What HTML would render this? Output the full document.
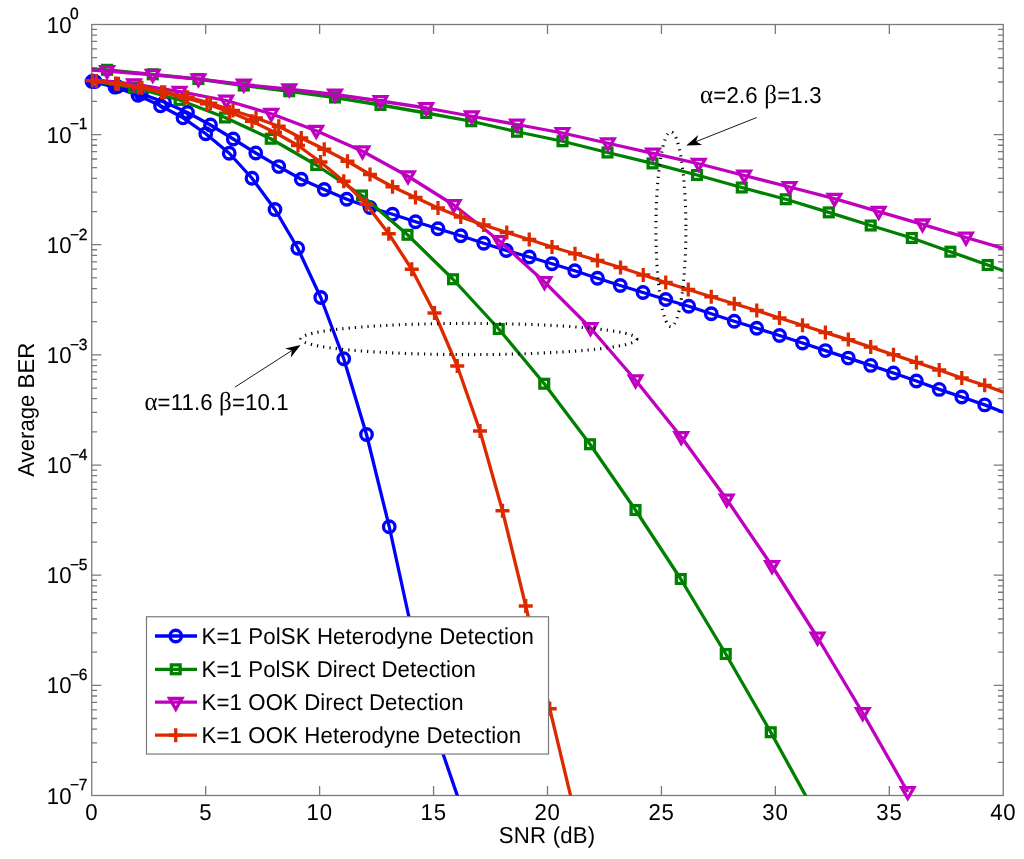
<!DOCTYPE html>
<html><head><meta charset="utf-8"><title>Average BER vs SNR</title>
<style>html,body{margin:0;padding:0;background:#fff}svg{display:block}</style></head>
<body>
<svg width="1024" height="859" viewBox="0 0 1024 859">
<rect width="1024" height="859" fill="#fff"/>
<defs><clipPath id="c"><rect x="91.75" y="24.40" width="911.50" height="771.10"/></clipPath></defs>
<g stroke="#7a7a7a" stroke-width="1.3" fill="none">
<rect x="91.75" y="24.50" width="911.50" height="771.00"/>
<path d="M205.69 795.50v-9.6M205.69 24.50v9.6M319.62 795.50v-9.6M319.62 24.50v9.6M433.56 795.50v-9.6M433.56 24.50v9.6M547.50 795.50v-9.6M547.50 24.50v9.6M661.44 795.50v-9.6M661.44 24.50v9.6M775.38 795.50v-9.6M775.38 24.50v9.6M889.31 795.50v-9.6M889.31 24.50v9.6M91.75 101.40h5.3M1003.25 101.40h-5.3M91.75 82.00h5.3M1003.25 82.00h-5.3M91.75 68.24h5.3M1003.25 68.24h-5.3M91.75 57.56h5.3M1003.25 57.56h-5.3M91.75 48.84h5.3M1003.25 48.84h-5.3M91.75 41.46h5.3M1003.25 41.46h-5.3M91.75 35.08h5.3M1003.25 35.08h-5.3M91.75 29.44h5.3M1003.25 29.44h-5.3M91.75 134.56h9.6M1003.25 134.56h-9.6M91.75 211.55h5.3M1003.25 211.55h-5.3M91.75 192.16h5.3M1003.25 192.16h-5.3M91.75 178.39h5.3M1003.25 178.39h-5.3M91.75 167.72h5.3M1003.25 167.72h-5.3M91.75 159.00h5.3M1003.25 159.00h-5.3M91.75 151.62h5.3M1003.25 151.62h-5.3M91.75 145.23h5.3M1003.25 145.23h-5.3M91.75 139.60h5.3M1003.25 139.60h-5.3M91.75 244.71h9.6M1003.25 244.71h-9.6M91.75 321.71h5.3M1003.25 321.71h-5.3M91.75 302.31h5.3M1003.25 302.31h-5.3M91.75 288.55h5.3M1003.25 288.55h-5.3M91.75 277.87h5.3M1003.25 277.87h-5.3M91.75 269.15h5.3M1003.25 269.15h-5.3M91.75 261.78h5.3M1003.25 261.78h-5.3M91.75 255.39h5.3M1003.25 255.39h-5.3M91.75 249.75h5.3M1003.25 249.75h-5.3M91.75 354.87h9.6M1003.25 354.87h-9.6M91.75 431.87h5.3M1003.25 431.87h-5.3M91.75 412.47h5.3M1003.25 412.47h-5.3M91.75 398.71h5.3M1003.25 398.71h-5.3M91.75 388.03h5.3M1003.25 388.03h-5.3M91.75 379.31h5.3M1003.25 379.31h-5.3M91.75 371.93h5.3M1003.25 371.93h-5.3M91.75 365.55h5.3M1003.25 365.55h-5.3M91.75 359.91h5.3M1003.25 359.91h-5.3M91.75 465.03h9.6M1003.25 465.03h-9.6M91.75 542.03h5.3M1003.25 542.03h-5.3M91.75 522.63h5.3M1003.25 522.63h-5.3M91.75 508.86h5.3M1003.25 508.86h-5.3M91.75 498.19h5.3M1003.25 498.19h-5.3M91.75 489.47h5.3M1003.25 489.47h-5.3M91.75 482.09h5.3M1003.25 482.09h-5.3M91.75 475.70h5.3M1003.25 475.70h-5.3M91.75 470.07h5.3M1003.25 470.07h-5.3M91.75 575.19h9.6M1003.25 575.19h-9.6M91.75 652.18h5.3M1003.25 652.18h-5.3M91.75 632.78h5.3M1003.25 632.78h-5.3M91.75 619.02h5.3M1003.25 619.02h-5.3M91.75 608.35h5.3M1003.25 608.35h-5.3M91.75 599.62h5.3M1003.25 599.62h-5.3M91.75 592.25h5.3M1003.25 592.25h-5.3M91.75 585.86h5.3M1003.25 585.86h-5.3M91.75 580.23h5.3M1003.25 580.23h-5.3M91.75 685.34h9.6M1003.25 685.34h-9.6M91.75 762.34h5.3M1003.25 762.34h-5.3M91.75 742.94h5.3M1003.25 742.94h-5.3M91.75 729.18h5.3M1003.25 729.18h-5.3M91.75 718.50h5.3M1003.25 718.50h-5.3M91.75 709.78h5.3M1003.25 709.78h-5.3M91.75 702.41h5.3M1003.25 702.41h-5.3M91.75 696.02h5.3M1003.25 696.02h-5.3M91.75 690.38h5.3M1003.25 690.38h-5.3"/>
</g>
<g clip-path="url(#c)">
<polyline fill="none" stroke="#0000ff" stroke-width="3.30" stroke-linejoin="round" points="91.75,81.30 115.00,87.20 138.00,95.30 160.50,105.80 183.00,117.80 205.75,133.75 229.25,153.25 252.00,178.25 275.00,209.50 297.75,248.25 320.75,297.50 343.75,358.75 366.50,434.50 389.25,526.75 408.75,616.25 443.00,753.75 457.25,795.40 460.00,803.00"/>
<polyline fill="none" stroke="#0000ff" stroke-width="3.30" stroke-linejoin="round" points="91.75,81.20 95.00,81.60 117.50,86.60 141.25,93.70 164.50,102.30 187.50,112.50 210.50,125.00 233.25,139.00 255.75,153.00 278.75,166.60 301.25,179.25 324.25,189.50 346.75,199.25 370.00,207.50 392.50,214.25 415.50,221.75 438.00,228.75 460.75,235.75 483.75,243.25 506.25,250.50 529.25,257.00 552.00,263.75 574.75,270.75 597.50,278.25 620.25,285.50 643.00,292.50 665.75,299.50 688.75,306.25 711.25,313.75 734.25,321.25 756.75,328.25 779.50,335.50 802.50,343.00 825.40,350.60 848.30,358.10 870.70,365.40 893.50,373.00 916.40,381.00 939.20,389.40 961.80,397.00 984.70,404.90 1003.25,412.30"/>
</g>
<circle cx="92.00" cy="81.40" r="5.75" fill="none" stroke="#0000ff" stroke-width="3.30"/><circle cx="115.00" cy="87.20" r="5.75" fill="none" stroke="#0000ff" stroke-width="3.30"/><circle cx="138.00" cy="95.30" r="5.75" fill="none" stroke="#0000ff" stroke-width="3.30"/><circle cx="160.50" cy="105.80" r="5.75" fill="none" stroke="#0000ff" stroke-width="3.30"/><circle cx="183.00" cy="117.80" r="5.75" fill="none" stroke="#0000ff" stroke-width="3.30"/><circle cx="205.75" cy="133.75" r="5.75" fill="none" stroke="#0000ff" stroke-width="3.30"/><circle cx="229.25" cy="153.25" r="5.75" fill="none" stroke="#0000ff" stroke-width="3.30"/><circle cx="252.00" cy="178.25" r="5.75" fill="none" stroke="#0000ff" stroke-width="3.30"/><circle cx="275.00" cy="209.50" r="5.75" fill="none" stroke="#0000ff" stroke-width="3.30"/><circle cx="297.75" cy="248.25" r="5.75" fill="none" stroke="#0000ff" stroke-width="3.30"/><circle cx="320.75" cy="297.50" r="5.75" fill="none" stroke="#0000ff" stroke-width="3.30"/><circle cx="343.75" cy="358.75" r="5.75" fill="none" stroke="#0000ff" stroke-width="3.30"/><circle cx="366.50" cy="434.50" r="5.75" fill="none" stroke="#0000ff" stroke-width="3.30"/><circle cx="389.25" cy="526.75" r="5.75" fill="none" stroke="#0000ff" stroke-width="3.30"/>
<circle cx="95.00" cy="81.60" r="5.75" fill="none" stroke="#0000ff" stroke-width="3.30"/><circle cx="117.50" cy="86.60" r="5.75" fill="none" stroke="#0000ff" stroke-width="3.30"/><circle cx="141.25" cy="93.70" r="5.75" fill="none" stroke="#0000ff" stroke-width="3.30"/><circle cx="164.50" cy="102.30" r="5.75" fill="none" stroke="#0000ff" stroke-width="3.30"/><circle cx="187.50" cy="112.50" r="5.75" fill="none" stroke="#0000ff" stroke-width="3.30"/><circle cx="210.50" cy="125.00" r="5.75" fill="none" stroke="#0000ff" stroke-width="3.30"/><circle cx="233.25" cy="139.00" r="5.75" fill="none" stroke="#0000ff" stroke-width="3.30"/><circle cx="255.75" cy="153.00" r="5.75" fill="none" stroke="#0000ff" stroke-width="3.30"/><circle cx="278.75" cy="166.60" r="5.75" fill="none" stroke="#0000ff" stroke-width="3.30"/><circle cx="301.25" cy="179.25" r="5.75" fill="none" stroke="#0000ff" stroke-width="3.30"/><circle cx="324.25" cy="189.50" r="5.75" fill="none" stroke="#0000ff" stroke-width="3.30"/><circle cx="346.75" cy="199.25" r="5.75" fill="none" stroke="#0000ff" stroke-width="3.30"/><circle cx="370.00" cy="207.50" r="5.75" fill="none" stroke="#0000ff" stroke-width="3.30"/><circle cx="392.50" cy="214.25" r="5.75" fill="none" stroke="#0000ff" stroke-width="3.30"/><circle cx="415.50" cy="221.75" r="5.75" fill="none" stroke="#0000ff" stroke-width="3.30"/><circle cx="438.00" cy="228.75" r="5.75" fill="none" stroke="#0000ff" stroke-width="3.30"/><circle cx="460.75" cy="235.75" r="5.75" fill="none" stroke="#0000ff" stroke-width="3.30"/><circle cx="483.75" cy="243.25" r="5.75" fill="none" stroke="#0000ff" stroke-width="3.30"/><circle cx="506.25" cy="250.50" r="5.75" fill="none" stroke="#0000ff" stroke-width="3.30"/><circle cx="529.25" cy="257.00" r="5.75" fill="none" stroke="#0000ff" stroke-width="3.30"/><circle cx="552.00" cy="263.75" r="5.75" fill="none" stroke="#0000ff" stroke-width="3.30"/><circle cx="574.75" cy="270.75" r="5.75" fill="none" stroke="#0000ff" stroke-width="3.30"/><circle cx="597.50" cy="278.25" r="5.75" fill="none" stroke="#0000ff" stroke-width="3.30"/><circle cx="620.25" cy="285.50" r="5.75" fill="none" stroke="#0000ff" stroke-width="3.30"/><circle cx="643.00" cy="292.50" r="5.75" fill="none" stroke="#0000ff" stroke-width="3.30"/><circle cx="665.75" cy="299.50" r="5.75" fill="none" stroke="#0000ff" stroke-width="3.30"/><circle cx="688.75" cy="306.25" r="5.75" fill="none" stroke="#0000ff" stroke-width="3.30"/><circle cx="711.25" cy="313.75" r="5.75" fill="none" stroke="#0000ff" stroke-width="3.30"/><circle cx="734.25" cy="321.25" r="5.75" fill="none" stroke="#0000ff" stroke-width="3.30"/><circle cx="756.75" cy="328.25" r="5.75" fill="none" stroke="#0000ff" stroke-width="3.30"/><circle cx="779.50" cy="335.50" r="5.75" fill="none" stroke="#0000ff" stroke-width="3.30"/><circle cx="802.50" cy="343.00" r="5.75" fill="none" stroke="#0000ff" stroke-width="3.30"/><circle cx="825.40" cy="350.60" r="5.75" fill="none" stroke="#0000ff" stroke-width="3.30"/><circle cx="848.30" cy="358.10" r="5.75" fill="none" stroke="#0000ff" stroke-width="3.30"/><circle cx="870.70" cy="365.40" r="5.75" fill="none" stroke="#0000ff" stroke-width="3.30"/><circle cx="893.50" cy="373.00" r="5.75" fill="none" stroke="#0000ff" stroke-width="3.30"/><circle cx="916.40" cy="381.00" r="5.75" fill="none" stroke="#0000ff" stroke-width="3.30"/><circle cx="939.20" cy="389.40" r="5.75" fill="none" stroke="#0000ff" stroke-width="3.30"/><circle cx="961.80" cy="397.00" r="5.75" fill="none" stroke="#0000ff" stroke-width="3.30"/><circle cx="984.70" cy="404.90" r="5.75" fill="none" stroke="#0000ff" stroke-width="3.30"/>
<g clip-path="url(#c)">
<polyline fill="none" stroke="#008000" stroke-width="3.30" stroke-linejoin="round" points="91.75,80.80 134.00,87.50 179.60,100.00 225.00,117.50 270.75,138.75 316.25,165.00 362.00,195.50 407.50,234.75 453.00,279.25 498.75,329.00 544.25,383.75 590.00,444.25 635.50,510.00 680.75,579.00 725.75,654.00 770.75,732.25 805.50,795.40 810.00,803.50"/>
<polyline fill="none" stroke="#008000" stroke-width="3.30" stroke-linejoin="round" points="91.75,68.80 107.10,69.80 152.75,74.30 198.40,79.00 243.75,85.50 289.25,91.25 335.00,97.50 380.50,105.00 426.25,113.00 471.25,121.25 517.00,131.75 562.50,141.25 607.50,152.50 652.50,163.40 697.00,175.00 741.75,187.50 785.75,199.25 828.80,212.40 870.70,225.50 911.80,238.00 950.40,251.70 987.70,265.00 1003.25,270.70"/>
</g>
<rect x="129.60" y="83.10" width="8.80" height="8.80" fill="none" stroke="#008000" stroke-width="3.30"/><rect x="175.20" y="95.60" width="8.80" height="8.80" fill="none" stroke="#008000" stroke-width="3.30"/><rect x="220.60" y="113.10" width="8.80" height="8.80" fill="none" stroke="#008000" stroke-width="3.30"/><rect x="266.35" y="134.35" width="8.80" height="8.80" fill="none" stroke="#008000" stroke-width="3.30"/><rect x="311.85" y="160.60" width="8.80" height="8.80" fill="none" stroke="#008000" stroke-width="3.30"/><rect x="357.60" y="191.10" width="8.80" height="8.80" fill="none" stroke="#008000" stroke-width="3.30"/><rect x="403.10" y="230.35" width="8.80" height="8.80" fill="none" stroke="#008000" stroke-width="3.30"/><rect x="448.60" y="274.85" width="8.80" height="8.80" fill="none" stroke="#008000" stroke-width="3.30"/><rect x="494.35" y="324.60" width="8.80" height="8.80" fill="none" stroke="#008000" stroke-width="3.30"/><rect x="539.85" y="379.35" width="8.80" height="8.80" fill="none" stroke="#008000" stroke-width="3.30"/><rect x="585.60" y="439.85" width="8.80" height="8.80" fill="none" stroke="#008000" stroke-width="3.30"/><rect x="631.10" y="505.60" width="8.80" height="8.80" fill="none" stroke="#008000" stroke-width="3.30"/><rect x="676.35" y="574.60" width="8.80" height="8.80" fill="none" stroke="#008000" stroke-width="3.30"/><rect x="721.35" y="649.60" width="8.80" height="8.80" fill="none" stroke="#008000" stroke-width="3.30"/><rect x="766.35" y="727.85" width="8.80" height="8.80" fill="none" stroke="#008000" stroke-width="3.30"/>
<rect x="102.70" y="65.40" width="8.80" height="8.80" fill="none" stroke="#008000" stroke-width="3.30"/><rect x="148.35" y="69.90" width="8.80" height="8.80" fill="none" stroke="#008000" stroke-width="3.30"/><rect x="194.00" y="74.60" width="8.80" height="8.80" fill="none" stroke="#008000" stroke-width="3.30"/><rect x="239.35" y="81.10" width="8.80" height="8.80" fill="none" stroke="#008000" stroke-width="3.30"/><rect x="284.85" y="86.85" width="8.80" height="8.80" fill="none" stroke="#008000" stroke-width="3.30"/><rect x="330.60" y="93.10" width="8.80" height="8.80" fill="none" stroke="#008000" stroke-width="3.30"/><rect x="376.10" y="100.60" width="8.80" height="8.80" fill="none" stroke="#008000" stroke-width="3.30"/><rect x="421.85" y="108.60" width="8.80" height="8.80" fill="none" stroke="#008000" stroke-width="3.30"/><rect x="466.85" y="116.85" width="8.80" height="8.80" fill="none" stroke="#008000" stroke-width="3.30"/><rect x="512.60" y="127.35" width="8.80" height="8.80" fill="none" stroke="#008000" stroke-width="3.30"/><rect x="558.10" y="136.85" width="8.80" height="8.80" fill="none" stroke="#008000" stroke-width="3.30"/><rect x="603.10" y="148.10" width="8.80" height="8.80" fill="none" stroke="#008000" stroke-width="3.30"/><rect x="648.10" y="159.00" width="8.80" height="8.80" fill="none" stroke="#008000" stroke-width="3.30"/><rect x="692.60" y="170.60" width="8.80" height="8.80" fill="none" stroke="#008000" stroke-width="3.30"/><rect x="737.35" y="183.10" width="8.80" height="8.80" fill="none" stroke="#008000" stroke-width="3.30"/><rect x="781.35" y="194.85" width="8.80" height="8.80" fill="none" stroke="#008000" stroke-width="3.30"/><rect x="824.40" y="208.00" width="8.80" height="8.80" fill="none" stroke="#008000" stroke-width="3.30"/><rect x="866.30" y="221.10" width="8.80" height="8.80" fill="none" stroke="#008000" stroke-width="3.30"/><rect x="907.40" y="233.60" width="8.80" height="8.80" fill="none" stroke="#008000" stroke-width="3.30"/><rect x="946.00" y="247.30" width="8.80" height="8.80" fill="none" stroke="#008000" stroke-width="3.30"/><rect x="983.30" y="260.60" width="8.80" height="8.80" fill="none" stroke="#008000" stroke-width="3.30"/>
<g clip-path="url(#c)">
<polyline fill="none" stroke="#bf00bf" stroke-width="3.30" stroke-linejoin="round" points="91.75,79.50 134.00,84.10 179.60,91.60 226.25,100.50 271.25,113.75 316.25,130.75 362.50,151.25 408.00,176.25 453.75,205.00 499.50,241.00 544.50,282.00 590.50,328.00 635.60,380.25 681.25,437.00 726.75,499.50 772.00,566.00 817.50,637.50 862.75,713.00 907.75,792.00"/>
<polyline fill="none" stroke="#bf00bf" stroke-width="3.30" stroke-linejoin="round" points="91.75,70.00 107.10,71.00 152.75,74.75 198.40,79.10 243.75,84.50 289.25,89.25 335.00,94.50 380.50,101.00 426.25,108.00 471.75,116.25 517.00,124.50 562.50,133.00 608.00,143.25 653.00,153.40 698.75,163.75 744.25,175.50 789.50,187.00 834.50,198.70 878.70,211.70 922.50,224.30 966.00,237.50 1003.25,248.30"/>
</g>
<path d="M127.80 79.80L140.20 79.80L134.00 90.54Z" fill="none" stroke="#bf00bf" stroke-width="3.30" stroke-linejoin="miter"/><path d="M173.40 87.30L185.80 87.30L179.60 98.04Z" fill="none" stroke="#bf00bf" stroke-width="3.30" stroke-linejoin="miter"/><path d="M220.05 96.20L232.45 96.20L226.25 106.94Z" fill="none" stroke="#bf00bf" stroke-width="3.30" stroke-linejoin="miter"/><path d="M265.05 109.45L277.45 109.45L271.25 120.19Z" fill="none" stroke="#bf00bf" stroke-width="3.30" stroke-linejoin="miter"/><path d="M310.05 126.45L322.45 126.45L316.25 137.19Z" fill="none" stroke="#bf00bf" stroke-width="3.30" stroke-linejoin="miter"/><path d="M356.30 146.95L368.70 146.95L362.50 157.69Z" fill="none" stroke="#bf00bf" stroke-width="3.30" stroke-linejoin="miter"/><path d="M401.80 171.95L414.20 171.95L408.00 182.69Z" fill="none" stroke="#bf00bf" stroke-width="3.30" stroke-linejoin="miter"/><path d="M447.55 200.70L459.95 200.70L453.75 211.44Z" fill="none" stroke="#bf00bf" stroke-width="3.30" stroke-linejoin="miter"/><path d="M493.30 236.70L505.70 236.70L499.50 247.44Z" fill="none" stroke="#bf00bf" stroke-width="3.30" stroke-linejoin="miter"/><path d="M538.30 277.70L550.70 277.70L544.50 288.44Z" fill="none" stroke="#bf00bf" stroke-width="3.30" stroke-linejoin="miter"/><path d="M584.30 323.70L596.70 323.70L590.50 334.44Z" fill="none" stroke="#bf00bf" stroke-width="3.30" stroke-linejoin="miter"/><path d="M629.40 375.95L641.80 375.95L635.60 386.69Z" fill="none" stroke="#bf00bf" stroke-width="3.30" stroke-linejoin="miter"/><path d="M675.05 432.70L687.45 432.70L681.25 443.44Z" fill="none" stroke="#bf00bf" stroke-width="3.30" stroke-linejoin="miter"/><path d="M720.55 495.20L732.95 495.20L726.75 505.94Z" fill="none" stroke="#bf00bf" stroke-width="3.30" stroke-linejoin="miter"/><path d="M765.80 561.70L778.20 561.70L772.00 572.44Z" fill="none" stroke="#bf00bf" stroke-width="3.30" stroke-linejoin="miter"/><path d="M811.30 633.20L823.70 633.20L817.50 643.94Z" fill="none" stroke="#bf00bf" stroke-width="3.30" stroke-linejoin="miter"/><path d="M856.55 708.70L868.95 708.70L862.75 719.44Z" fill="none" stroke="#bf00bf" stroke-width="3.30" stroke-linejoin="miter"/><path d="M901.55 787.70L913.95 787.70L907.75 798.44Z" fill="none" stroke="#bf00bf" stroke-width="3.30" stroke-linejoin="miter"/>
<path d="M100.90 66.70L113.30 66.70L107.10 77.44Z" fill="none" stroke="#bf00bf" stroke-width="3.30" stroke-linejoin="miter"/><path d="M146.55 70.45L158.95 70.45L152.75 81.19Z" fill="none" stroke="#bf00bf" stroke-width="3.30" stroke-linejoin="miter"/><path d="M192.20 74.80L204.60 74.80L198.40 85.54Z" fill="none" stroke="#bf00bf" stroke-width="3.30" stroke-linejoin="miter"/><path d="M237.55 80.20L249.95 80.20L243.75 90.94Z" fill="none" stroke="#bf00bf" stroke-width="3.30" stroke-linejoin="miter"/><path d="M283.05 84.95L295.45 84.95L289.25 95.69Z" fill="none" stroke="#bf00bf" stroke-width="3.30" stroke-linejoin="miter"/><path d="M328.80 90.20L341.20 90.20L335.00 100.94Z" fill="none" stroke="#bf00bf" stroke-width="3.30" stroke-linejoin="miter"/><path d="M374.30 96.70L386.70 96.70L380.50 107.44Z" fill="none" stroke="#bf00bf" stroke-width="3.30" stroke-linejoin="miter"/><path d="M420.05 103.70L432.45 103.70L426.25 114.44Z" fill="none" stroke="#bf00bf" stroke-width="3.30" stroke-linejoin="miter"/><path d="M465.55 111.95L477.95 111.95L471.75 122.69Z" fill="none" stroke="#bf00bf" stroke-width="3.30" stroke-linejoin="miter"/><path d="M510.80 120.20L523.20 120.20L517.00 130.94Z" fill="none" stroke="#bf00bf" stroke-width="3.30" stroke-linejoin="miter"/><path d="M556.30 128.70L568.70 128.70L562.50 139.44Z" fill="none" stroke="#bf00bf" stroke-width="3.30" stroke-linejoin="miter"/><path d="M601.80 138.95L614.20 138.95L608.00 149.69Z" fill="none" stroke="#bf00bf" stroke-width="3.30" stroke-linejoin="miter"/><path d="M646.80 149.10L659.20 149.10L653.00 159.84Z" fill="none" stroke="#bf00bf" stroke-width="3.30" stroke-linejoin="miter"/><path d="M692.55 159.45L704.95 159.45L698.75 170.19Z" fill="none" stroke="#bf00bf" stroke-width="3.30" stroke-linejoin="miter"/><path d="M738.05 171.20L750.45 171.20L744.25 181.94Z" fill="none" stroke="#bf00bf" stroke-width="3.30" stroke-linejoin="miter"/><path d="M783.30 182.70L795.70 182.70L789.50 193.44Z" fill="none" stroke="#bf00bf" stroke-width="3.30" stroke-linejoin="miter"/><path d="M828.30 194.40L840.70 194.40L834.50 205.14Z" fill="none" stroke="#bf00bf" stroke-width="3.30" stroke-linejoin="miter"/><path d="M872.50 207.40L884.90 207.40L878.70 218.14Z" fill="none" stroke="#bf00bf" stroke-width="3.30" stroke-linejoin="miter"/><path d="M916.30 220.00L928.70 220.00L922.50 230.74Z" fill="none" stroke="#bf00bf" stroke-width="3.30" stroke-linejoin="miter"/><path d="M959.80 233.20L972.20 233.20L966.00 243.94Z" fill="none" stroke="#bf00bf" stroke-width="3.30" stroke-linejoin="miter"/>
<g clip-path="url(#c)">
<polyline fill="none" stroke="#dc2a00" stroke-width="3.30" stroke-linejoin="round" points="91.75,81.00 115.60,83.50 138.70,87.50 161.60,92.20 184.60,97.60 207.00,103.90 229.50,112.00 252.00,121.25 275.00,132.50 298.00,145.50 320.50,162.00 343.75,181.25 366.25,204.25 388.75,233.75 411.75,269.25 434.50,313.00 457.25,366.00 480.00,431.00 502.50,510.75 525.75,606.00 549.75,708.75 570.50,795.40 572.50,804.00"/>
<polyline fill="none" stroke="#dc2a00" stroke-width="3.30" stroke-linejoin="round" points="91.75,80.80 96.30,81.00 118.40,83.70 141.90,87.70 164.70,92.20 187.60,97.20 210.40,103.20 233.00,110.50 256.00,118.00 278.75,126.25 301.25,138.00 324.25,149.25 347.50,161.25 370.00,174.50 392.50,186.75 415.50,197.50 438.00,208.00 460.75,217.00 483.75,225.00 506.75,232.50 529.25,239.50 552.00,247.00 575.00,253.75 597.50,260.50 620.50,267.50 643.25,275.00 665.75,282.50 688.25,289.50 711.25,296.75 734.25,303.75 756.75,310.50 779.50,318.00 802.50,325.20 825.40,332.60 848.30,339.60 870.70,347.10 893.50,354.70 916.40,362.40 939.20,370.00 961.80,378.00 984.70,385.30 1003.25,392.10"/>
</g>
<path d="M85.30 80.60H99.30M92.30 73.60V87.60" fill="none" stroke="#dc2a00" stroke-width="3.30"/><path d="M108.60 83.50H122.60M115.60 76.50V90.50" fill="none" stroke="#dc2a00" stroke-width="3.30"/><path d="M131.70 87.50H145.70M138.70 80.50V94.50" fill="none" stroke="#dc2a00" stroke-width="3.30"/><path d="M154.60 92.20H168.60M161.60 85.20V99.20" fill="none" stroke="#dc2a00" stroke-width="3.30"/><path d="M177.60 97.60H191.60M184.60 90.60V104.60" fill="none" stroke="#dc2a00" stroke-width="3.30"/><path d="M200.00 103.90H214.00M207.00 96.90V110.90" fill="none" stroke="#dc2a00" stroke-width="3.30"/><path d="M222.50 112.00H236.50M229.50 105.00V119.00" fill="none" stroke="#dc2a00" stroke-width="3.30"/><path d="M245.00 121.25H259.00M252.00 114.25V128.25" fill="none" stroke="#dc2a00" stroke-width="3.30"/><path d="M268.00 132.50H282.00M275.00 125.50V139.50" fill="none" stroke="#dc2a00" stroke-width="3.30"/><path d="M291.00 145.50H305.00M298.00 138.50V152.50" fill="none" stroke="#dc2a00" stroke-width="3.30"/><path d="M313.50 162.00H327.50M320.50 155.00V169.00" fill="none" stroke="#dc2a00" stroke-width="3.30"/><path d="M336.75 181.25H350.75M343.75 174.25V188.25" fill="none" stroke="#dc2a00" stroke-width="3.30"/><path d="M359.25 204.25H373.25M366.25 197.25V211.25" fill="none" stroke="#dc2a00" stroke-width="3.30"/><path d="M381.75 233.75H395.75M388.75 226.75V240.75" fill="none" stroke="#dc2a00" stroke-width="3.30"/><path d="M404.75 269.25H418.75M411.75 262.25V276.25" fill="none" stroke="#dc2a00" stroke-width="3.30"/><path d="M427.50 313.00H441.50M434.50 306.00V320.00" fill="none" stroke="#dc2a00" stroke-width="3.30"/><path d="M450.25 366.00H464.25M457.25 359.00V373.00" fill="none" stroke="#dc2a00" stroke-width="3.30"/><path d="M473.00 431.00H487.00M480.00 424.00V438.00" fill="none" stroke="#dc2a00" stroke-width="3.30"/><path d="M495.50 510.75H509.50M502.50 503.75V517.75" fill="none" stroke="#dc2a00" stroke-width="3.30"/><path d="M518.75 606.00H532.75M525.75 599.00V613.00" fill="none" stroke="#dc2a00" stroke-width="3.30"/><path d="M542.75 708.75H556.75M549.75 701.75V715.75" fill="none" stroke="#dc2a00" stroke-width="3.30"/>
<path d="M89.30 81.00H103.30M96.30 74.00V88.00" fill="none" stroke="#dc2a00" stroke-width="3.30"/><path d="M111.40 83.70H125.40M118.40 76.70V90.70" fill="none" stroke="#dc2a00" stroke-width="3.30"/><path d="M134.90 87.70H148.90M141.90 80.70V94.70" fill="none" stroke="#dc2a00" stroke-width="3.30"/><path d="M157.70 92.20H171.70M164.70 85.20V99.20" fill="none" stroke="#dc2a00" stroke-width="3.30"/><path d="M180.60 97.20H194.60M187.60 90.20V104.20" fill="none" stroke="#dc2a00" stroke-width="3.30"/><path d="M203.40 103.20H217.40M210.40 96.20V110.20" fill="none" stroke="#dc2a00" stroke-width="3.30"/><path d="M226.00 110.50H240.00M233.00 103.50V117.50" fill="none" stroke="#dc2a00" stroke-width="3.30"/><path d="M249.00 118.00H263.00M256.00 111.00V125.00" fill="none" stroke="#dc2a00" stroke-width="3.30"/><path d="M271.75 126.25H285.75M278.75 119.25V133.25" fill="none" stroke="#dc2a00" stroke-width="3.30"/><path d="M294.25 138.00H308.25M301.25 131.00V145.00" fill="none" stroke="#dc2a00" stroke-width="3.30"/><path d="M317.25 149.25H331.25M324.25 142.25V156.25" fill="none" stroke="#dc2a00" stroke-width="3.30"/><path d="M340.50 161.25H354.50M347.50 154.25V168.25" fill="none" stroke="#dc2a00" stroke-width="3.30"/><path d="M363.00 174.50H377.00M370.00 167.50V181.50" fill="none" stroke="#dc2a00" stroke-width="3.30"/><path d="M385.50 186.75H399.50M392.50 179.75V193.75" fill="none" stroke="#dc2a00" stroke-width="3.30"/><path d="M408.50 197.50H422.50M415.50 190.50V204.50" fill="none" stroke="#dc2a00" stroke-width="3.30"/><path d="M431.00 208.00H445.00M438.00 201.00V215.00" fill="none" stroke="#dc2a00" stroke-width="3.30"/><path d="M453.75 217.00H467.75M460.75 210.00V224.00" fill="none" stroke="#dc2a00" stroke-width="3.30"/><path d="M476.75 225.00H490.75M483.75 218.00V232.00" fill="none" stroke="#dc2a00" stroke-width="3.30"/><path d="M499.75 232.50H513.75M506.75 225.50V239.50" fill="none" stroke="#dc2a00" stroke-width="3.30"/><path d="M522.25 239.50H536.25M529.25 232.50V246.50" fill="none" stroke="#dc2a00" stroke-width="3.30"/><path d="M545.00 247.00H559.00M552.00 240.00V254.00" fill="none" stroke="#dc2a00" stroke-width="3.30"/><path d="M568.00 253.75H582.00M575.00 246.75V260.75" fill="none" stroke="#dc2a00" stroke-width="3.30"/><path d="M590.50 260.50H604.50M597.50 253.50V267.50" fill="none" stroke="#dc2a00" stroke-width="3.30"/><path d="M613.50 267.50H627.50M620.50 260.50V274.50" fill="none" stroke="#dc2a00" stroke-width="3.30"/><path d="M636.25 275.00H650.25M643.25 268.00V282.00" fill="none" stroke="#dc2a00" stroke-width="3.30"/><path d="M658.75 282.50H672.75M665.75 275.50V289.50" fill="none" stroke="#dc2a00" stroke-width="3.30"/><path d="M681.25 289.50H695.25M688.25 282.50V296.50" fill="none" stroke="#dc2a00" stroke-width="3.30"/><path d="M704.25 296.75H718.25M711.25 289.75V303.75" fill="none" stroke="#dc2a00" stroke-width="3.30"/><path d="M727.25 303.75H741.25M734.25 296.75V310.75" fill="none" stroke="#dc2a00" stroke-width="3.30"/><path d="M749.75 310.50H763.75M756.75 303.50V317.50" fill="none" stroke="#dc2a00" stroke-width="3.30"/><path d="M772.50 318.00H786.50M779.50 311.00V325.00" fill="none" stroke="#dc2a00" stroke-width="3.30"/><path d="M795.50 325.20H809.50M802.50 318.20V332.20" fill="none" stroke="#dc2a00" stroke-width="3.30"/><path d="M818.40 332.60H832.40M825.40 325.60V339.60" fill="none" stroke="#dc2a00" stroke-width="3.30"/><path d="M841.30 339.60H855.30M848.30 332.60V346.60" fill="none" stroke="#dc2a00" stroke-width="3.30"/><path d="M863.70 347.10H877.70M870.70 340.10V354.10" fill="none" stroke="#dc2a00" stroke-width="3.30"/><path d="M886.50 354.70H900.50M893.50 347.70V361.70" fill="none" stroke="#dc2a00" stroke-width="3.30"/><path d="M909.40 362.40H923.40M916.40 355.40V369.40" fill="none" stroke="#dc2a00" stroke-width="3.30"/><path d="M932.20 370.00H946.20M939.20 363.00V377.00" fill="none" stroke="#dc2a00" stroke-width="3.30"/><path d="M954.80 378.00H968.80M961.80 371.00V385.00" fill="none" stroke="#dc2a00" stroke-width="3.30"/><path d="M977.70 385.30H991.70M984.70 378.30V392.30" fill="none" stroke="#dc2a00" stroke-width="3.30"/>
<g fill="none" stroke="#000" stroke-width="3.1" stroke-dasharray="1.2 5.1">
<ellipse cx="468.9" cy="339" rx="168" ry="15.6"/>
<ellipse cx="670.9" cy="229.2" rx="15" ry="97.3"/>
</g>
<path d="M235.00 387.10L291.77 350.58" stroke="#000" stroke-width="0.9" fill="none"/><path d="M300.60 344.90L290.85 357.47L291.77 350.58L285.12 348.56Z" fill="#000"/>
<path d="M756.75 117.50L696.01 141.62" stroke="#000" stroke-width="0.9" fill="none"/><path d="M686.25 145.50L698.23 135.04L696.01 141.62L702.15 144.89Z" fill="#000"/>
<g font-family="Liberation Sans, sans-serif" font-size="22.2" fill="#000" text-rendering="geometricPrecision">
<text transform="translate(91.45 820.10) scale(1 1.035)" text-anchor="middle">0</text>
<text transform="translate(205.39 820.10) scale(1 1.035)" text-anchor="middle">5</text>
<text transform="translate(319.32 820.10) scale(1 1.035)" text-anchor="middle" textLength="25.5">10</text>
<text transform="translate(433.26 820.10) scale(1 1.035)" text-anchor="middle" textLength="25.5">15</text>
<text transform="translate(547.20 820.10) scale(1 1.035)" text-anchor="middle" textLength="25.5">20</text>
<text transform="translate(661.14 820.10) scale(1 1.035)" text-anchor="middle" textLength="25.5">25</text>
<text transform="translate(775.08 820.10) scale(1 1.035)" text-anchor="middle" textLength="25.5">30</text>
<text transform="translate(889.01 820.10) scale(1 1.035)" text-anchor="middle" textLength="25.5">35</text>
<text transform="translate(1002.95 820.10) scale(1 1.035)" text-anchor="middle" textLength="25.5">40</text>
<text transform="translate(46.80 32.50) scale(1 1.035)">10</text>
<text transform="translate(70.00 19.30) scale(1 1.035)" font-size="15.6" stroke="#000" stroke-width="0.3">0</text>
<text transform="translate(46.80 142.66) scale(1 1.035)">10</text>
<text transform="translate(70.00 129.46) scale(1 1.035)" font-size="15.6" textLength="17.5" stroke="#000" stroke-width="0.3">−1</text>
<text transform="translate(46.80 252.81) scale(1 1.035)">10</text>
<text transform="translate(70.00 239.61) scale(1 1.035)" font-size="15.6" textLength="17.5" stroke="#000" stroke-width="0.3">−2</text>
<text transform="translate(46.80 362.97) scale(1 1.035)">10</text>
<text transform="translate(70.00 349.77) scale(1 1.035)" font-size="15.6" textLength="17.5" stroke="#000" stroke-width="0.3">−3</text>
<text transform="translate(46.80 473.13) scale(1 1.035)">10</text>
<text transform="translate(70.00 459.93) scale(1 1.035)" font-size="15.6" textLength="17.5" stroke="#000" stroke-width="0.3">−4</text>
<text transform="translate(46.80 583.29) scale(1 1.035)">10</text>
<text transform="translate(70.00 570.09) scale(1 1.035)" font-size="15.6" textLength="17.5" stroke="#000" stroke-width="0.3">−5</text>
<text transform="translate(46.80 693.44) scale(1 1.035)">10</text>
<text transform="translate(70.00 680.24) scale(1 1.035)" font-size="15.6" textLength="17.5" stroke="#000" stroke-width="0.3">−6</text>
<text transform="translate(46.80 803.60) scale(1 1.035)">10</text>
<text transform="translate(70.00 790.40) scale(1 1.035)" font-size="15.6" textLength="17.5" stroke="#000" stroke-width="0.3">−7</text>
<text transform="translate(547.00 842.90) scale(1 1.035)" text-anchor="middle" textLength="96.3">SNR (dB)</text>
<text transform="translate(33.60 409.80) rotate(-90) scale(1 1.035)" text-anchor="middle">Average BER</text>
<text transform="translate(144.40 409.60) scale(1 1.035)" textLength="144.2"><tspan font-family="Liberation Serif, serif" font-size="25">α</tspan>=11.6 <tspan font-family="Liberation Serif, serif" font-size="25">β</tspan>=10.1</text>
<text transform="translate(700.00 103.00) scale(1 1.035)" textLength="121.6"><tspan font-family="Liberation Serif, serif" font-size="25">α</tspan>=2.6 <tspan font-family="Liberation Serif, serif" font-size="25">β</tspan>=1.3</text>
</g>
<rect x="146.5" y="616.75" width="402" height="137.3" fill="#fff" stroke="#7a7a7a" stroke-width="1.2"/>
<path d="M155 636.00H197" stroke="#0000ff" stroke-width="3.30"/>
<path d="M155 669.30H197" stroke="#008000" stroke-width="3.30"/>
<path d="M155 702.10H197" stroke="#bf00bf" stroke-width="3.30"/>
<path d="M155 735.20H197" stroke="#dc2a00" stroke-width="3.30"/>
<circle cx="175.75" cy="636.00" r="5.75" fill="none" stroke="#0000ff" stroke-width="3.30"/>
<rect x="171.35" y="664.90" width="8.80" height="8.80" fill="none" stroke="#008000" stroke-width="3.30"/>
<path d="M169.55 698.50L181.95 698.50L175.75 709.24Z" fill="none" stroke="#bf00bf" stroke-width="3.30" stroke-linejoin="miter"/>
<path d="M168.75 735.20H182.75M175.75 728.20V742.20" fill="none" stroke="#dc2a00" stroke-width="3.30"/>
<g font-family="Liberation Sans, sans-serif" font-size="22.2" fill="#000" text-rendering="geometricPrecision">
<text transform="translate(201.60 643.75) scale(1 1.035)" textLength="332.3">K=1 PolSK Heterodyne Detection</text>
<text transform="translate(201.60 676.75) scale(1 1.035)" textLength="274.3">K=1 PolSK Direct Detection</text>
<text transform="translate(201.60 709.90) scale(1 1.035)" textLength="261.9">K=1 OOK Direct Detection</text>
<text transform="translate(201.60 743.00) scale(1 1.035)" textLength="319.5">K=1 OOK Heterodyne Detection</text>
</g>
</svg>
</body></html>
